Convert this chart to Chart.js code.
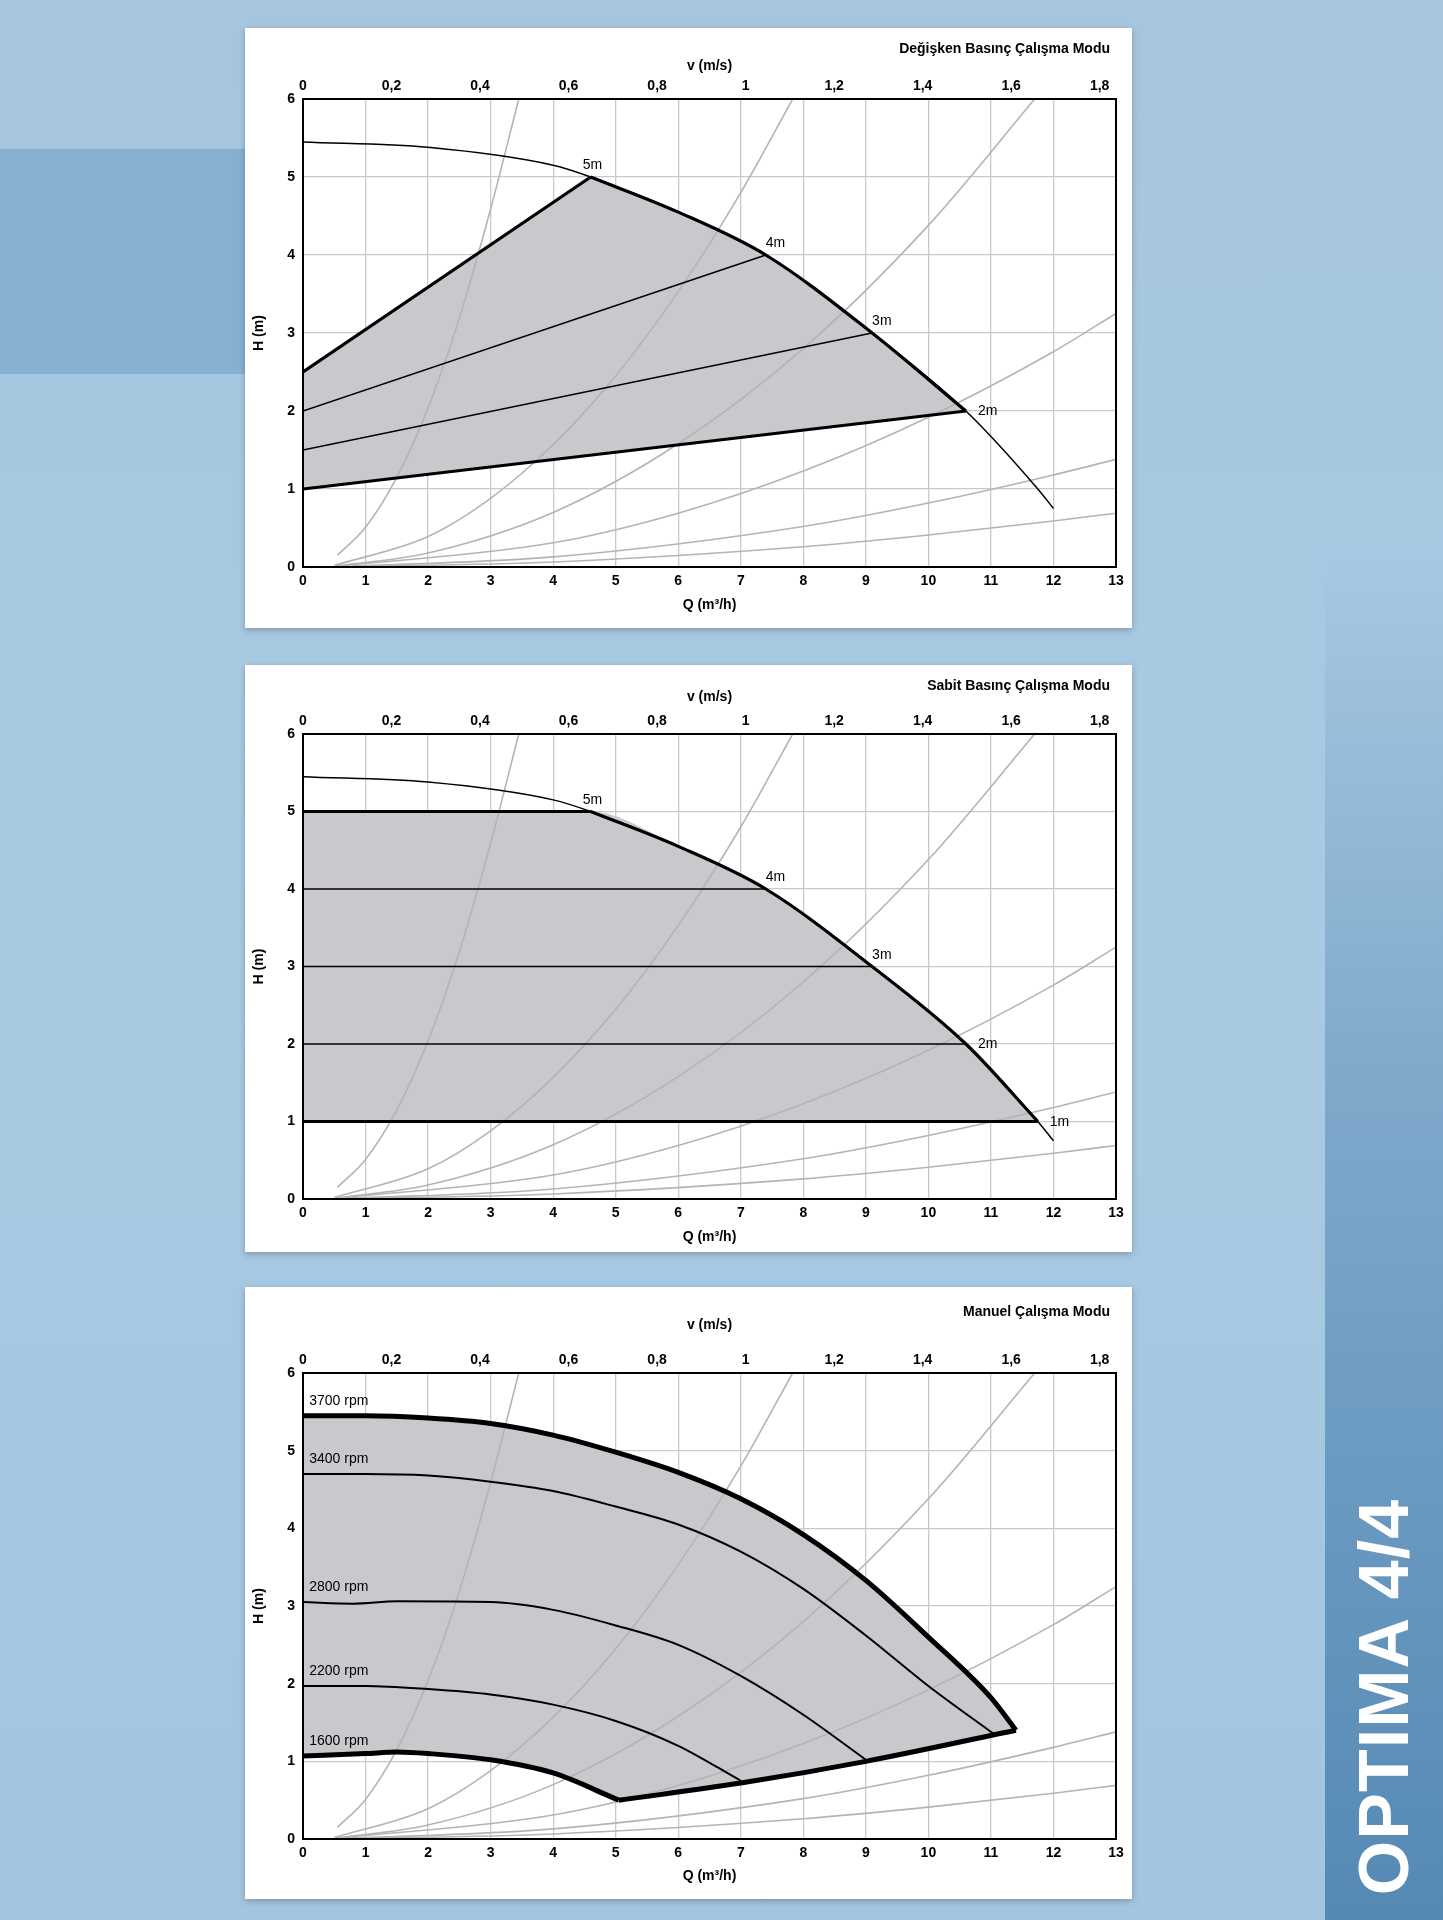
<!DOCTYPE html>
<html>
<head>
<meta charset="utf-8">
<script src="https://cdn.jsdelivr.net/npm/chart.js@4"></script>
<style>
  body { margin: 0; width: 1443px; height: 1920px; position: relative; overflow: hidden;
         background: linear-gradient(180deg, #a6c6df 0%, #a9cae3 50%, #a3c5df 100%); font-family: "Liberation Sans", Arial, sans-serif; }
  .band { position: absolute; left: 0; top: 149px; width: 245px; height: 225px; background: #85b0d2; }
  .strip { position: absolute; left: 1325px; top: 527px; width: 118px; height: 1393px;
           background: linear-gradient(180deg, #a9cae3 0%, #7ea9cb 40%, #5589b4 100%); }
  .strip span { position: absolute; left: 59px; top: 1170px; transform: translate(-50%, -50%) rotate(-90deg);
                color: #fff; font: bold 70px "Liberation Sans", Arial, sans-serif; white-space: nowrap; letter-spacing: 1px; }
  .panel { position: absolute; left: 245px; width: 887px; background: #fff; box-shadow: 0 2px 6px rgba(0,0,0,0.25); }
</style>
</head>
<body>
<div class="band"></div>
<div class="strip"><span>OPTIMA 4/4</span></div>
<div class="panel" style="top:28px;height:600px"><canvas id="c1"></canvas></div>
<div class="panel" style="top:665px;height:587px"><canvas id="c2"></canvas></div>
<div class="panel" style="top:1287px;height:612px"><canvas id="c3"></canvas></div>
<script>
// system curves (grey)
const sysA_Q = [0.55, 1, 1.5, 2, 2.5, 3, 3.45];
const sysA_H = [0.15, 0.51, 1.15, 2.04, 3.19, 4.59, 6.0];
const sysB_Q = [0.5, 2, 3, 4, 5, 6, 7, 7.83];
const sysB_H = [0.02, 0.39, 0.88, 1.57, 2.45, 3.53, 4.8, 6.0];
const sysC_Q = [0.5, 2, 4, 6, 8, 10, 11.7];
const sysC_H = [0.01, 0.18, 0.70, 1.58, 2.80, 4.38, 6.0];
const sysD_Q = [0.5, 4, 6, 8, 10, 12, 13];
const sysD_H = [0.005, 0.31, 0.69, 1.23, 1.92, 2.76, 3.25];
const sysE_Q = [0.5, 4, 8, 10, 12, 13];
const sysE_H = [0.002, 0.13, 0.52, 0.82, 1.18, 1.38];
const sysF_Q = [0.5, 4, 8, 10, 12, 13];
const sysF_H = [0.001, 0.065, 0.26, 0.41, 0.59, 0.69];

// max pump curve (charts 1 and 2)
const maxQ = [0, 2, 4, 4.6, 6, 7.4, 9.1, 10.6, 11.75, 12];
const maxH = [5.45, 5.38, 5.15, 5.0, 4.55, 4.0, 3.0, 2.0, 1.0, 0.75];

// chart 1: variable pressure lines (start H at Q=0, end point on max curve)
const varStartH = [2.5, 2, 1.5, 1];
const varEndQ = [4.6, 7.4, 9.1, 10.6];
const varEndH = [5, 4, 3, 2];
const varLabels = ['5m', '4m', '3m', '2m'];

// chart 2: constant pressure lines
const constH = [5, 4, 3, 2, 1];
const constEndQ = [4.6, 7.4, 9.1, 10.6, 11.75];
const constLabels = ['5m', '4m', '3m', '2m', '1m'];

// chart 3: rpm curves
const rpm3700_Q = [0, 1, 2, 3, 4, 5, 6, 7, 8, 9, 10, 11, 11.4];
const rpm3700_H = [5.45, 5.45, 5.42, 5.35, 5.2, 4.98, 4.72, 4.38, 3.92, 3.33, 2.6, 1.82, 1.4];
const rpm3400_Q = [0, 1, 2, 3, 4, 5, 6, 7, 8, 9, 10, 11.05];
const rpm3400_H = [4.7, 4.7, 4.68, 4.6, 4.48, 4.28, 4.05, 3.7, 3.22, 2.62, 1.97, 1.35];
const rpm2800_Q = [0, 0.8, 1.5, 3, 4, 5, 6, 7, 8, 9];
const rpm2800_H = [3.05, 3.03, 3.06, 3.05, 2.95, 2.75, 2.5, 2.1, 1.6, 1.02];
const rpm2200_Q = [0, 1, 2, 3, 4, 5, 6, 7];
const rpm2200_H = [1.97, 1.97, 1.93, 1.86, 1.73, 1.52, 1.2, 0.75];
const rpm1600_Q = [0, 1, 1.5, 2, 3, 4, 5.05, 7, 9, 11.4];
const rpm1600_H = [1.07, 1.1, 1.12, 1.1, 1.02, 0.85, 0.5, 0.72, 1.0, 1.4];
const rpmLabels = ['3700 rpm', '3400 rpm', '2800 rpm', '2200 rpm', '1600 rpm'];
const rpmLabelH = [5.45, 4.7, 3.05, 1.97, 1.07];

const qTicks = [0, 1, 2, 3, 4, 5, 6, 7, 8, 9, 10, 11, 12, 13];
const hTicks = [0, 1, 2, 3, 4, 5, 6];
const vTicks = [0, 0.2, 0.4, 0.6, 0.8, 1, 1.2, 1.4, 1.6, 1.8];
const vPerQ = 0.1413;

const pts = (q, h) => q.map((x, i) => ({ x: x, y: h[i] }));
const inRange = (arr, a, b) => arr.filter(p => p.x >= a && p.x <= b);
const FONT = "'Liberation Sans', Arial, sans-serif";
const FILL = '#c8c9cc';
const NONE = 'rgba(0,0,0,0)';

function sysSets() {
  return [[sysA_Q, sysA_H], [sysB_Q, sysB_H], [sysC_Q, sysC_H], [sysD_Q, sysD_H], [sysE_Q, sysE_H], [sysF_Q, sysF_H]]
    .map(p => ({ data: pts(p[0], p[1]), borderColor: '#b4b4b4', borderWidth: 1.6, tension: 0.4,
                 cubicInterpolationMode: 'monotone', pointRadius: 0, order: 5 }));
}
function line(data, w, extra) {
  return Object.assign({ data: data, borderColor: '#000', borderWidth: w, pointRadius: 0, fill: false, order: 1 }, extra || {});
}

function makeChart(id, datasets, title, top, bottom, vTitlePad, qTitlePad, labels) {
  const framePlugin = {
    id: 'frame',
    afterDatasetsDraw(chart) {
      const { ctx, chartArea: a, scales } = chart;
      ctx.save();
      ctx.strokeStyle = '#000'; ctx.lineWidth = 2;
      ctx.strokeRect(a.left, a.top, a.right - a.left, a.bottom - a.top);
      ctx.fillStyle = '#000';
      ctx.font = '14px ' + FONT;
      labels.forEach(l => {
        ctx.textAlign = l.align || 'left';
        ctx.fillText(l.t, scales.x.getPixelForValue(l.x) + (l.dx || 0), scales.y.getPixelForValue(l.y) + (l.dy || 0));
      });
      ctx.font = 'bold 14px ' + FONT;
      ctx.textAlign = 'right';
      ctx.fillText(title, chart.width - 22, top === 86 ? 29 : 25);
      ctx.restore();
    }
  };
  const tickFont = { family: FONT, size: 14, weight: 'bold' };
  return new Chart(document.getElementById(id), {
    type: 'line',
    data: { datasets: datasets },
    plugins: [framePlugin],
    options: {
      animation: false, responsive: true, maintainAspectRatio: false,
      layout: { padding: { right: 16, left: 6 } },
      plugins: { legend: { display: false }, tooltip: { enabled: false } },
      scales: {
        x: { type: 'linear', min: 0, max: 13, afterBuildTicks: s => { s.ticks = qTicks.map(v => ({ value: v })); },
             grid: { color: '#c9c9c9', lineWidth: 1.3, drawTicks: false },
             ticks: { color: '#000', font: tickFont, padding: 6 },
             title: { display: true, text: 'Q (m³/h)', color: '#000', font: tickFont, padding: { top: 0, bottom: qTitlePad } },
             afterFit: s => { s.height = bottom; } },
        x2: { type: 'linear', position: 'top', min: 0, max: 13 * vPerQ,
              afterBuildTicks: s => { s.ticks = vTicks.map(v => ({ value: v })); },
              grid: { display: false, drawTicks: false, tickLength: 0 }, border: { display: false },
              ticks: { color: '#000', font: tickFont, padding: 4,
                       callback: v => String(Math.round(v * 10) / 10).replace('.', ',') },
              title: { display: true, text: 'v (m/s)', color: '#000', font: tickFont, padding: { top: vTitlePad, bottom: 0 } },
              afterFit: s => { s.height = top; } },
        y: { type: 'linear', min: 0, max: 6, afterBuildTicks: s => { s.ticks = hTicks.map(v => ({ value: v })); },
             grid: { color: '#c9c9c9', lineWidth: 1.3, drawTicks: false },
             ticks: { color: '#000', font: tickFont, padding: 8 },
             title: { display: true, text: 'H (m)', color: '#000', font: tickFont, padding: 0 },
             afterFit: s => { s.width = 52; } }
      }
    }
  });
}

const spline = { tension: 0.4, cubicInterpolationMode: 'monotone' };

// ---- chart 1
{
  const curve = pts(maxQ, maxH);
  const ds = [
    line([{ x: 0, y: 1 }, { x: 10.6, y: 2 }], 0, { borderColor: NONE, order: 10 }),
    line([{ x: 0, y: varStartH[0] }, { x: 4.6, y: 5 }, { x: 4.75, y: 4.96 }], 0, { fill: 0, backgroundColor: FILL, borderColor: NONE, order: 10 }),
    line(inRange(curve, 4.6, 10.6), 0, Object.assign({ fill: 0, backgroundColor: FILL, borderColor: NONE, order: 10 }, spline))
  ].concat(sysSets());
  ds.push(line(curve, 1.5, spline));
  ds.push(line(inRange(curve, 4.6, 10.6), 3.2, spline));
  varStartH.forEach((h, i) => ds.push(line([{ x: 0, y: h }, { x: varEndQ[i], y: varEndH[i] }], (i === 0 || i === 3) ? 3.2 : 1.5)));
  const labels = varLabels.map((t, i) => ({ t: t, x: varEndQ[i], y: varEndH[i], dx: i === 0 ? -8 : (i === 3 ? 12 : 0), dy: i === 3 ? 4 : -8 }));
  makeChart('c1', ds, 'Değişken Basınç Çalışma Modu', 71, 61, 30, 14, labels);
}

// ---- chart 2
{
  const curve = pts(maxQ, maxH);
  const upper = [{ x: 0, y: 5 }].concat(inRange(curve, 4.6, 11.75));
  const ds = [
    line(upper, 0, Object.assign({ fill: 1, backgroundColor: FILL, borderColor: NONE, order: 10 }, spline)),
    line([{ x: 0, y: 1 }, { x: 11.75, y: 1 }], 0, { borderColor: NONE, order: 10 })
  ].concat(sysSets());
  ds.push(line(curve, 1.5, spline));
  ds.push(line(inRange(curve, 4.6, 11.75), 3.2, spline));
  constH.forEach((h, i) => ds.push(line([{ x: 0, y: h }, { x: constEndQ[i], y: h }], (i === 0 || i === 4) ? 3.2 : 1.5)));
  const labels = constLabels.map((t, i) => ({ t: t, x: constEndQ[i], y: constH[i], dx: i === 0 ? -8 : (i >= 3 ? 12 : 0), dy: i >= 3 ? 4 : -8 }));
  makeChart('c2', ds, 'Sabit Basınç Çalışma Modu', 69, 53, 24, 6, labels);
}

// ---- chart 3
{
  const ds = [
    line(pts(rpm3700_Q, rpm3700_H), 0, Object.assign({ fill: 1, backgroundColor: FILL, borderColor: NONE, order: 10 }, spline)),
    line(pts(rpm1600_Q, rpm1600_H), 0, { borderColor: NONE, order: 10, tension: 0.3 })
  ].concat(sysSets());
  ds.push(line(pts(rpm3700_Q, rpm3700_H), 5, spline));
  ds.push(line(pts(rpm3400_Q, rpm3400_H), 2, spline));
  ds.push(line(pts(rpm2800_Q, rpm2800_H), 2, spline));
  ds.push(line(pts(rpm2200_Q, rpm2200_H), 2, spline));
  ds.push(line(pts(rpm1600_Q.slice(0, 7), rpm1600_H.slice(0, 7)), 5, spline));
  ds.push(line(pts(rpm1600_Q.slice(6), rpm1600_H.slice(6)), 5, spline));
  ds.push(line([{ x: rpm3700_Q[12], y: rpm3700_H[12] }, { x: rpm1600_Q[9], y: rpm1600_H[9] }], 5));
  const labels = rpmLabels.map((t, i) => ({ t: t, x: 0.1, y: rpmLabelH[i], dy: -11 }));
  makeChart('c3', ds, 'Manuel Çalışma Modu', 86, 60, 30, 14, labels);
}
</script>
</body>
</html>
